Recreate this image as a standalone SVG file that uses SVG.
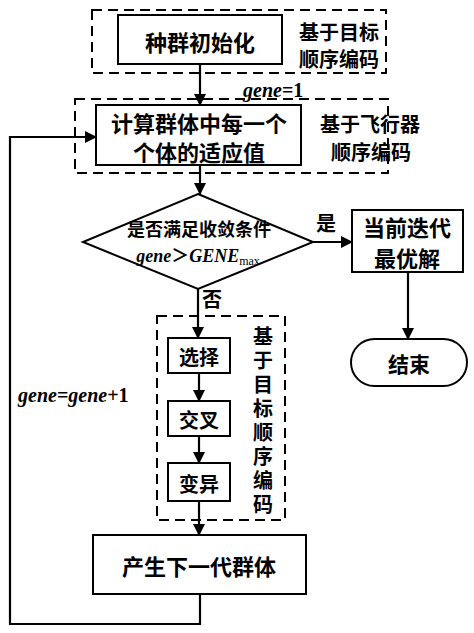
<svg xmlns="http://www.w3.org/2000/svg" width="474" height="633" viewBox="0 0 474 633">
<defs>
<marker id="ah" markerWidth="12" markerHeight="12" refX="11" refY="6" orient="auto" markerUnits="userSpaceOnUse">
<path d="M0,0 L12,6 L0,12 Z" fill="#000"/>
</marker>
<style>
.box{fill:#fff;stroke:#000;stroke-width:2}
.dash{fill:none;stroke:#000;stroke-width:2;stroke-dasharray:10,6}
.ln{fill:none;stroke:#000;stroke-width:2.2}
.cn{font-family:"Noto Sans CJK SC","Liberation Sans",sans-serif;font-weight:bold;fill:#000;text-anchor:middle;dominant-baseline:central}
.vt{font-family:"Noto Sans CJK SC","Liberation Sans",sans-serif;font-weight:bold;fill:#000;writing-mode:vertical-rl;letter-spacing:4px}
.lat{font-family:"Liberation Serif",serif;font-weight:bold;fill:#000}
</style>
</defs>
<rect width="474" height="633" fill="#fff"/>

<g id="group-init">
<rect class="dash" x="92" y="10" width="294" height="63"/>
<text class="cn" x="339" y="31" font-size="20">基于目标</text>
<text class="cn" x="339" y="58" font-size="20">顺序编码</text>
</g>
<g id="node-init">
<rect class="box" x="118" y="15" width="164" height="49"/>
<text class="cn" x="200" y="41" font-size="22">种群初始化</text>
</g>

<g id="group-fitness">
<rect class="dash" x="75" y="99" width="313" height="74"/>
<text class="cn" x="370" y="123" font-size="20">基于飞行器</text>
<text class="cn" x="371" y="151" font-size="20">顺序编码</text>
</g>
<g id="node-fitness">
<rect class="box" x="96" y="105" width="205" height="60"/>
<text class="cn" x="199" y="122" font-size="22">计算群体中每一个</text>
<text class="cn" x="199" y="151" font-size="22">个体的适应值</text>
</g>

<g id="node-decision">
<polygon class="box" points="198,194 313,242 198,289 83,242"/>
<text class="cn" x="199" y="228" font-size="18">是否满足收敛条件</text>
<text class="lat" x="198" y="262" font-size="18" text-anchor="middle"><tspan font-style="italic">gene</tspan><tspan font-family="Noto Sans CJK SC, sans-serif">＞</tspan><tspan font-style="italic">GENE</tspan><tspan font-size="12" font-weight="normal" dy="3">max</tspan></text>
</g>

<g id="node-best">
<rect class="box" x="352" y="210" width="111" height="62"/>
<text class="cn" x="407" y="226" font-size="22">当前迭代</text>
<text class="cn" x="407" y="257" font-size="22">最优解</text>
</g>

<g id="node-end">
<rect class="box" x="351" y="339" width="116" height="47" rx="23.5" ry="23.5"/>
<text class="cn" x="409" y="363" font-size="21">结束</text>
</g>

<g id="group-ops">
<rect class="dash" x="157" y="316" width="128" height="204"/>
<text class="vt" x="263" y="326" font-size="20">基于目标顺序编码</text>
</g>
<g id="node-select">
<rect class="box" x="168" y="338" width="62" height="35"/>
<text class="cn" x="199" y="356" font-size="20">选择</text>
</g>
<g id="node-cross">
<rect class="box" x="168" y="401" width="62" height="35"/>
<text class="cn" x="199" y="419" font-size="20">交叉</text>
</g>
<g id="node-mutate">
<rect class="box" x="168" y="463" width="62" height="38"/>
<text class="cn" x="199" y="483" font-size="20">变异</text>
</g>

<g id="node-next">
<rect class="box" x="93" y="535" width="213" height="59"/>
<text class="cn" x="199" y="565" font-size="22">产生下一代群体</text>
</g>

<g id="connectors">
<line class="ln" x1="200" y1="64" x2="200" y2="105" marker-end="url(#ah)"/>
<line class="ln" x1="200" y1="165" x2="200" y2="194" marker-end="url(#ah)"/>
<line class="ln" x1="313" y1="242" x2="352" y2="242" marker-end="url(#ah)"/>
<line class="ln" x1="408" y1="272" x2="408" y2="339" marker-end="url(#ah)"/>
<line class="ln" x1="198" y1="289" x2="198" y2="338" marker-end="url(#ah)"/>
<line class="ln" x1="199" y1="373" x2="199" y2="401" marker-end="url(#ah)"/>
<line class="ln" x1="199" y1="436" x2="199" y2="463" marker-end="url(#ah)"/>
<line class="ln" x1="199" y1="501" x2="199" y2="535" marker-end="url(#ah)"/>
<polyline class="ln" points="200,594 200,624 10,624 10,137 96,137" marker-end="url(#ah)"/>
<text class="lat" x="243" y="97" font-size="20"><tspan font-style="italic">gene</tspan>=1</text>
<text class="cn" x="326" y="222" font-size="20">是</text>
<text class="cn" x="212" y="298" font-size="20">否</text>
<text class="lat" x="18" y="402" font-size="20"><tspan font-style="italic">gene</tspan>=<tspan font-style="italic">gene</tspan>+1</text>
</g>
</svg>
